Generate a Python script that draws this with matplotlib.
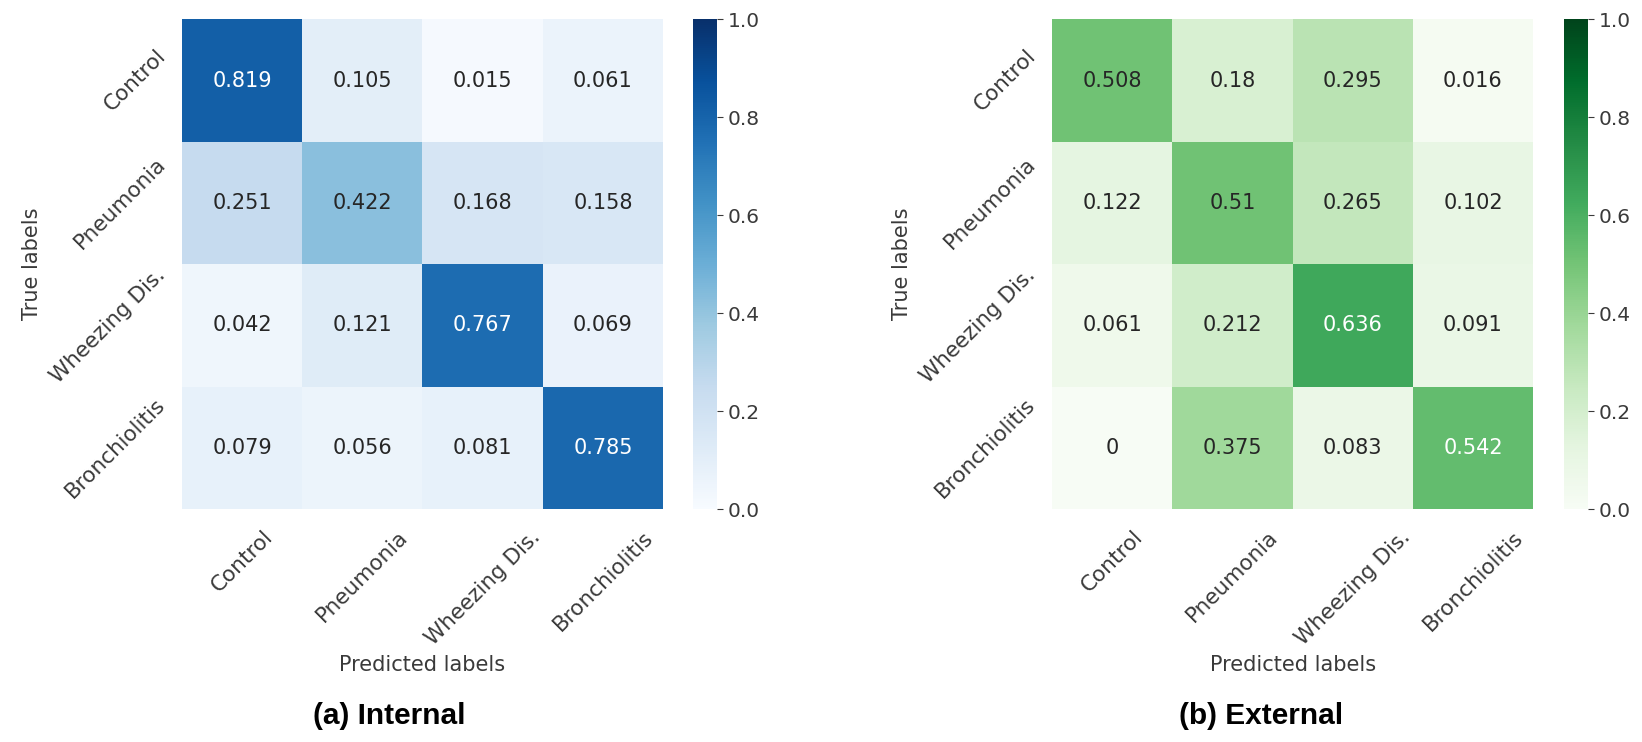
import numpy as np
import matplotlib
matplotlib.use("Agg")
import matplotlib.pyplot as plt
import seaborn as sns

labels = ["Control", "Pneumonia", "Wheezing Dis.", "Bronchiolitis"]

internal_cm = [[0.819, 0.105, 0.015, 0.061],
               [0.251, 0.422, 0.168, 0.158],
               [0.042, 0.121, 0.767, 0.069],
               [0.079, 0.056, 0.081, 0.785]]

external_cm = [[0.508, 0.18, 0.295, 0.016],
               [0.122, 0.51, 0.265, 0.102],
               [0.061, 0.212, 0.636, 0.091],
               [0, 0.375, 0.083, 0.542]]

sns.set_style("white")
plt.rcParams["font.family"] = ["DejaVu Sans"]
plt.rcParams["text.color"] = "#3a3a3a"
plt.rcParams["axes.labelcolor"] = "#3a3a3a"
plt.rcParams["xtick.color"] = "#3a3a3a"
plt.rcParams["ytick.color"] = "#3a3a3a"

fig = plt.figure(figsize=(16.42, 7.42), dpi=100)

# matrix, colormap, caption, heatmap left, colorbar left, caption centre
panels = [
    (internal_cm, "Blues", "(a) Internal", 0.1108, 0.422, 0.237),
    (external_cm, "Greens", "(b) External", 0.6407, 0.9525, 0.768),
]

for cm, cmap, caption, x0, cx0, tx in panels:
    ax = fig.add_axes([x0, 0.314, 0.293, 0.660])
    cax = fig.add_axes([cx0, 0.314, 0.0146, 0.660])
    sns.heatmap(np.array(cm), ax=ax, cbar_ax=cax, cmap=cmap, vmin=0, vmax=1,
                annot=True, fmt="g", annot_kws={"size": 15},
                xticklabels=labels, yticklabels=labels)
    ax.set_xticklabels(labels, rotation=45, fontsize=15.5)
    ax.set_yticklabels(labels, rotation=45, fontsize=15.5)
    ax.tick_params(axis="x", length=0, pad=13)
    ax.tick_params(axis="y", length=0, pad=9)
    ax.set_xlabel("Predicted labels", fontsize=15)
    ax.set_ylabel("True labels", fontsize=15)
    cax.tick_params(labelsize=14.5, length=4, width=0.8)
    cax.set_yticks([0, 0.2, 0.4, 0.6, 0.8, 1.0])
    cax.set_yticklabels(["0.0", "0.2", "0.4", "0.6", "0.8", "1.0"])
    fig.text(tx, 0.035, caption, ha="center", va="center", fontsize=21.5,
             fontweight="bold", family="Liberation Sans", color="black")

fig.savefig("out.png", dpi=100)
